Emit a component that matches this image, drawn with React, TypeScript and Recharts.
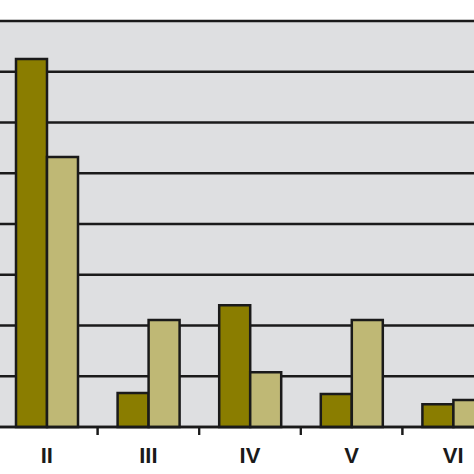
import React from "react";
import { BarChart, Bar, XAxis, YAxis, CartesianGrid } from "recharts";

const categories = ["II", "III", "IV", "V", "VI"];
const seriesA = [7.25, 0.67, 2.4, 0.65, 0.45];
const seriesB = [5.32, 2.11, 1.08, 2.11, 0.53];
const yTicks = [0, 1, 2, 3, 4, 5, 6, 7, 8];

const data = categories.map((c, i) => ({ name: c, a: seriesA[i], b: seriesB[i] }));

const TICK_LEN = 8;
const TICK_MARGIN = 20;

const CategoryTick = (props: any) => {
  const { x, y, payload } = props;
  const half = payload && payload.offset ? payload.offset : 0;
  const axisY = y - TICK_MARGIN;
  return (
    <g>
      <line x1={x - half} x2={x - half} y1={axisY} y2={axisY + TICK_LEN} stroke="#1a1a1a" strokeWidth={2} />
      <line x1={x + half} x2={x + half} y1={axisY} y2={axisY + TICK_LEN} stroke="#1a1a1a" strokeWidth={2} />
      <text
        x={x}
        y={y}
        dy="0.71em"
        textAnchor="middle"
        fill="#1a1a1a"
        fontSize={22}
        fontWeight="bold"
        fontFamily="Liberation Sans, Arial, sans-serif"
      >
        {payload.value}
      </text>
    </g>
  );
};

export default function App() {
  return (
    <div
      style={{
        position: "absolute",
        left: 0,
        top: 0,
        width: 474,
        height: 474,
        overflow: "hidden",
        background: "#ffffff",
      }}
    >
      <div style={{ position: "absolute", left: -4, top: 0 }}>
        <BarChart
          width={508}
          height={474}
          data={data}
          margin={{ top: 21, right: 0, left: 0, bottom: 0 }}
          barCategoryGap={20}
          barGap={0}
        >
          <CartesianGrid
            vertical={false}
            stroke="#1a1a1a"
            strokeWidth={2.5}
            fill="#dedfe1"
            fillOpacity={1}
          />
          <YAxis hide domain={[0, 8]} ticks={yTicks} />
          <XAxis
            dataKey="name"
            height={47}
            axisLine={{ stroke: "#1a1a1a", strokeWidth: 2.5 }}
            tickLine={false}
            tickSize={0}
            tickMargin={TICK_MARGIN}
            tick={CategoryTick}
          />
          <Bar dataKey="a" fill="#8a7d00" stroke="#1a1a1a" strokeWidth={2.5} isAnimationActive={false} />
          <Bar dataKey="b" fill="#bfb875" stroke="#1a1a1a" strokeWidth={2.5} isAnimationActive={false} />
        </BarChart>
      </div>
    </div>
  );
}
